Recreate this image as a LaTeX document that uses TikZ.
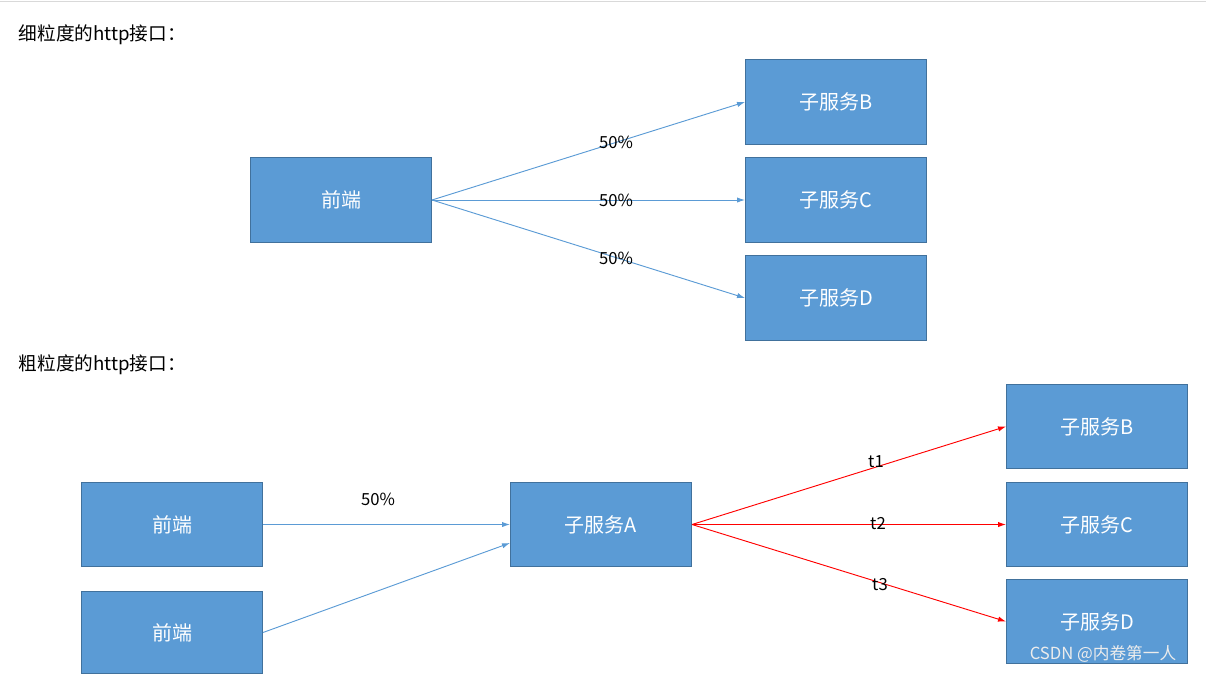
\documentclass[tikz,border=0pt]{standalone}
\usepackage{fontspec}
\setmainfont{Noto Sans CJK SC}
\usetikzlibrary{arrows.meta}
\definecolor{bfill}{HTML}{5B9BD5}
\definecolor{bdraw}{HTML}{41719C}
\begin{document}
\begin{tikzpicture}[x=0.75pt,y=-0.75pt,
 box/.style={fill=bfill,draw=bdraw,line width=0.6pt,text=white,font=\fontsize{15}{18}\selectfont},
 bl/.style={draw=bfill,line width=0.7pt,-{Latex[length=6pt,width=4pt]}},
 rl/.style={draw=red,line width=0.7pt,-{Latex[length=6pt,width=4pt]}},
 lab/.style={font=\fontsize{12.5}{15}\selectfont},
 ttl/.style={font=\fontsize{14}{17}\selectfont,anchor=west}]
\useasboundingbox (0,0) rectangle (1206,675);
\draw[gray!30] (0,1) -- (1206,1);
\node[ttl] (t1) at (14,35) {细粒度的http接口：};
\node[ttl] (t2) at (14,365) {粗粒度的http接口：};
\def\bx(#1,#2,#3,#4,#5,#6){\node[box,minimum width=#3*0.75pt-0.6pt,minimum height=#4*0.75pt-0.6pt] (#6) at (#1+#3/2,#2+#4/2) {#5};}
\bx(250,157,182,86,前端,f1)
\bx(745,59,182,86,子服务B,b1)
\bx(745,157,182,86,子服务C,c1)
\bx(745,255,182,86,子服务D,d1)
\draw[bl] (f1.east) -- (b1.west);
\draw[bl] (f1.east) -- (c1.west);
\draw[bl] (f1.east) -- (d1.west);
\node[lab] (l1) at (616,142) {50\%};
\node[lab] (l2) at (616,200) {50\%};
\node[lab] (l3) at (616,258) {50\%};
\bx(81,482,182,85,前端,f2)
\bx(81,591,182,83,前端,f3)
\bx(510,482,182,85,子服务A,a2)
\bx(1006,384,182,85,子服务B,b2)
\bx(1006,482,182,85,子服务C,c2)
\bx(1006,579,182,85,子服务D,d2)
\draw[bl] (f2.east) -- (a2.west);
\draw[bl] (f3.east) -- (a2.south west |- 0,543);
\draw[rl] (a2.east) -- (b2.west);
\draw[rl] (a2.east) -- (c2.west);
\draw[rl] (a2.east) -- (d2.west);
\node[lab] (l4) at (378,499) {50\%};
\node[lab] (m1) at (876,462) {t1};
\node[lab] (m2) at (878,524) {t2};
\node[lab] (m3) at (880,585) {t3};
\node[font=\fontsize{12.5}{15}\selectfont,text=white!85!gray] (wm) at (1103,654) {CSDN @内卷第一人};
\end{tikzpicture}
\end{document}
